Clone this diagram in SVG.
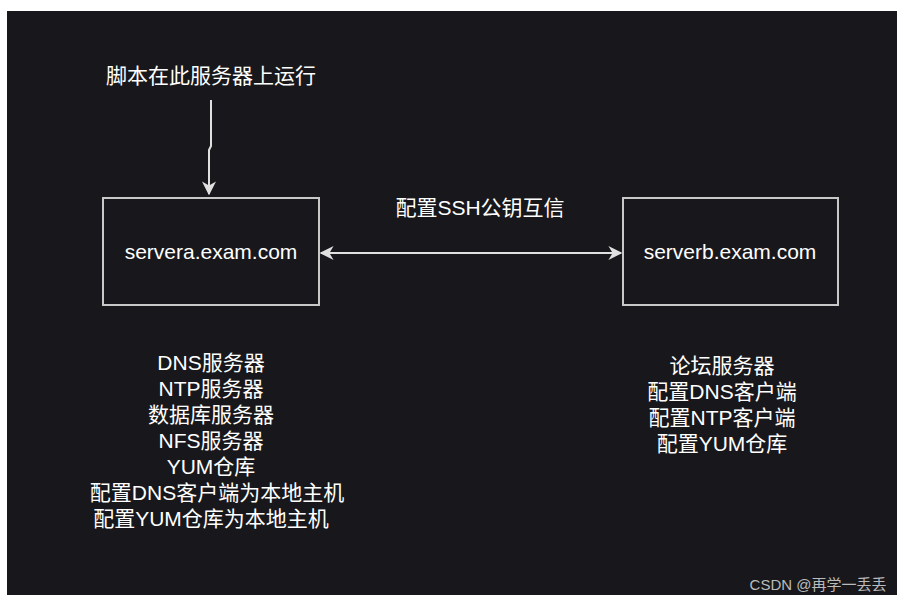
<svg xmlns="http://www.w3.org/2000/svg" width="899" height="601" viewBox="0 0 899 601">
<style>
.t{font-family:"Liberation Sans","Noto Sans CJK SC",sans-serif;fill:#fff;font-size:21px;text-anchor:middle}
.n{font-family:"Liberation Sans",sans-serif;fill:#fff;font-size:21px;text-anchor:middle}
.box{fill:none;stroke:#c8c8c8;stroke-width:2}
.c{stroke:#e0e0e0;stroke-width:2;fill:none}
</style>
<defs>
<marker id="a" viewBox="0 0 10 10" refX="9" refY="5" markerWidth="7" markerHeight="7" orient="auto-start-reverse"><path d="M0,0L10,5L0,10L3,5Z" fill="#e0e0e0"/></marker>
</defs>
<rect width="899" height="601" fill="#fff"/>
<rect x="7" y="11" width="890" height="584" fill="#18181c"/>
<g id="label-top"><text class="t" x="211" y="83">脚本在此服务器上运行</text></g>
<g id="servera"><rect class="box" x="103" y="198" width="216" height="107"/><text class="n" x="211" y="259">servera.exam.com</text></g>
<g id="serverb"><rect class="box" x="623" y="198" width="215" height="107"/><text class="n" x="730" y="259">serverb.exam.com</text></g>
<g id="ssh-label"><text class="t" x="480" y="215">配置SSH公钥互信</text></g>
<g id="connectors">
<path class="c" d="M211,100V146L209,150V194" marker-end="url(#a)"/>
<path class="c" d="M321,253H621" marker-start="url(#a)" marker-end="url(#a)"/>
</g>
<g id="servera-list"><text class="t" x="211" y="370">DNS服务器<tspan x="211" dy="26">NTP服务器</tspan><tspan x="211" dy="26">数据库服务器</tspan><tspan x="211" dy="26">NFS服务器</tspan><tspan x="211" dy="26">YUM仓库</tspan><tspan x="217" dy="26">配置DNS客户端为本地主机</tspan><tspan x="211" dy="26">配置YUM仓库为本地主机</tspan></text></g>
<g id="serverb-list"><text class="t" x="722" y="373">论坛服务器<tspan x="722" dy="26">配置DNS客户端</tspan><tspan x="722" dy="26">配置NTP客户端</tspan><tspan x="722" dy="26">配置YUM仓库</tspan></text></g>
<text x="818" y="590" style="font-family:'Liberation Sans','Noto Sans CJK SC',sans-serif;font-size:15px;fill:#bbb;text-anchor:middle">CSDN @再学一丢丢</text>
</svg>
